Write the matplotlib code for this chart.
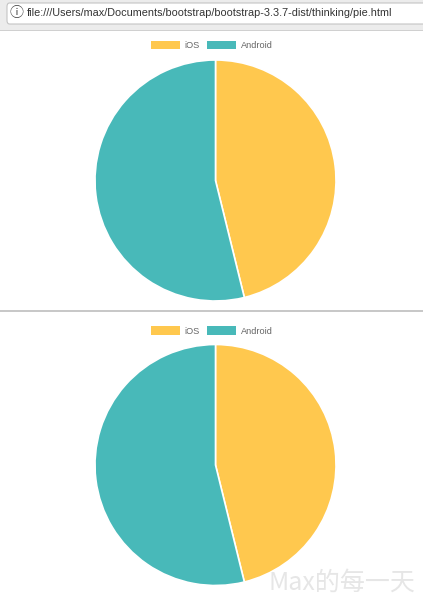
import matplotlib.pyplot as plt
from matplotlib.patches import Rectangle, FancyBboxPatch, Patch

W, H = 423, 600

labels = ['iOS', 'Android']
values = [30, 35]
colors = ['#ffc84e', '#48b9b9']
url = 'file:///Users/max/Documents/bootstrap/bootstrap-3.3.7-dist/thinking/pie.html'
watermark = 'Max的每一天'

plt.rcParams['font.family'] = ['Liberation Sans', 'DejaVu Sans']

fig = plt.figure(figsize=(W / 100, H / 100), dpi=100)
fig.patch.set_facecolor('white')


def fx(px):
    return px / W


def fy(py):
    return 1 - py / H


# browser address bar
fig.patches.append(Rectangle((0, fy(30)), 1, fy(0) - fy(30), transform=fig.transFigure,
                             facecolor='#ececec', edgecolor='none', zorder=0))
fig.patches.append(FancyBboxPatch((fx(7), fy(24)), fx(430) - fx(7), fy(3) - fy(24),
                                  boxstyle='round,pad=0,rounding_size=0.006',
                                  transform=fig.transFigure, facecolor='white',
                                  edgecolor='#c4c4c4', linewidth=0.8, zorder=1))
fig.patches.append(Rectangle((0, fy(31)), 1, fy(30) - fy(31), transform=fig.transFigure,
                             facecolor='#d0d0d0', edgecolor='none', zorder=1))
fig.text(fx(16.5), fy(13.5), 'ⓘ', fontsize=10, color='#444444', va='center', ha='center',
         family=['Noto Sans CJK SC', 'DejaVu Sans'])
fig.text(fx(27), fy(13.5), url, fontsize=7.8, color='#333333', va='center', ha='left')

# separator between the two charts
fig.patches.append(Rectangle((0, fy(312)), 1, fy(310) - fy(312), transform=fig.transFigure,
                             facecolor='#c8c8c8', edgecolor='none', zorder=1))


def draw_pie(cy, legend_y):
    r = 120.5
    cx = 215.5
    ax = fig.add_axes([fx(cx - r), fy(cy + r), fx(2 * r), fy(cy - r) - fy(cy + r)])
    ax.pie(values, colors=colors, startangle=90, counterclock=False, radius=1,
           wedgeprops=dict(edgecolor='white', linewidth=1.2))
    ax.set_xlim(-1, 1)
    ax.set_ylim(-1, 1)
    ax.set_aspect('equal')
    ax.axis('off')
    handles = [Patch(facecolor=c, edgecolor='none') for c in colors]
    fig.legend(handles, labels, loc='center', bbox_to_anchor=(fx(212), fy(legend_y)),
               ncol=2, frameon=False, fontsize=6.6, handlelength=3.1, handleheight=1.0,
               handletextpad=0.55, columnspacing=0.8, labelcolor='#666666',
               borderpad=0)


draw_pie(180.5, 45.5)
draw_pie(465, 331)

fig.text(fx(415), fy(590), watermark, fontsize=18, color='#e6e6e6', ha='right',
         va='baseline', family=['Noto Sans CJK SC', 'DejaVu Sans'], zorder=10)

fig.savefig('out.png', dpi=100)
